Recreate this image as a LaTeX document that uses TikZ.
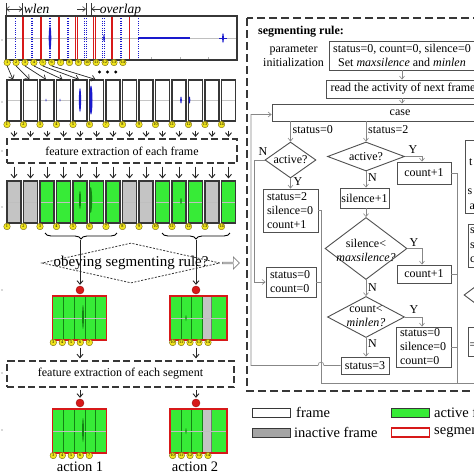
\documentclass[tikz,border=0pt]{standalone}
\usepackage{fontspec}
\setmainfont{Liberation Serif}
\usetikzlibrary{shapes.geometric,shapes.arrows,decorations.pathreplacing,arrows.meta,calc}
\definecolor{myyellow}{RGB}{240,228,30}
\definecolor{mygreen}{RGB}{55,235,55}
\definecolor{dkgreen}{RGB}{20,130,20}
\definecolor{mygray}{RGB}{196,196,196}
\definecolor{lggray}{RGB}{165,165,165}
\definecolor{fbord}{RGB}{55,55,55}
\definecolor{myred}{RGB}{215,25,25}
\definecolor{myblue}{RGB}{25,25,205}
\definecolor{conng}{RGB}{135,135,135}
\definecolor{boxc}{RGB}{80,80,80}
\definecolor{circb}{RGB}{110,95,10}
\tikzset{
  numc/.style={circle, draw=circb, line width=0.35pt, fill=myyellow, inner sep=0pt, minimum size=6.6pt, font=\fontsize{4.3}{4.3}\selectfont},
  fbox/.style={draw=fbord, line width=1.1pt, inner sep=0pt, minimum width=14pt},
  arr/.style={-{Straight Barb[length=3.5pt,width=6pt]}, line width=0.9pt, draw=black!85},
  dbox/.style={draw=fbord, line width=1.2pt, dash pattern=on 7pt off 3.5pt, inner sep=0pt},
  ft/.style={font=\fontsize{12}{14}\selectfont},
  fcbox/.style={draw=boxc, line width=0.9pt, inner sep=0pt, ft},
  conn/.style={draw=conng, line width=0.6pt},
  carr/.style={conn, -{Straight Barb[length=3pt,width=5pt]}},
  ddia/.style={diamond, draw=boxc, line width=0.9pt, inner sep=0pt},
  segbox/.style={draw=myred, line width=1.3pt, inner sep=0pt},
  rdot/.style={circle, fill=myred, draw=myred!70!black, line width=0.4pt, inner sep=0pt, minimum size=8pt},
  lgt/.style={font=\fontsize{14.5}{15}\selectfont, anchor=west, inner sep=0pt},
  bar/.style={draw=fbord, line width=0.6pt},
  barr/.style={bar, -{Straight Barb[length=3pt,width=5pt]}},
}
\newcommand\mysegA[2]{% #1 top y, #2 name
  \foreach \k in {0,...,4} \fill[mygreen] (52.5+\k*10.8,#1) rectangle (52.5+\k*10.8+10.8,#1+44);
  \foreach \k in {1,...,4} \draw[dkgreen, line width=0.6pt] (52.5+\k*10.8,#1) -- (52.5+\k*10.8,#1+44);
  \draw[black!25, line width=0.3pt] (52.5,#1+22) -- (106.5,#1+22);
  \fill[dkgreen] (83,#1+21) ellipse (0.9 and 12);
  \node[segbox, minimum width=54pt, minimum height=44pt] (#2) at (79.5,#1+22) {};
}
\newcommand\mysegB[2]{%
  \fill[mygreen] (170,#1) rectangle (202,#1+44);
  \fill[mygray] (202,#1) rectangle (211.5,#1+44);
  \fill[mygreen] (211.5,#1) rectangle (227,#1+44);
  \foreach \xx in {181,191.5,202} \draw[dkgreen, line width=0.6pt] (\xx,#1) -- (\xx,#1+44);
  \draw[black!55, line width=0.6pt] (211.5,#1) -- (211.5,#1+44);
  \draw[black!25, line width=0.3pt] (170,#1+22) -- (227,#1+22);
  \fill[dkgreen] (186,#1+22) ellipse (0.6 and 3);
  \node[segbox, minimum width=57pt, minimum height=44pt] (#2) at (198.5,#1+22) {};
}
\begin{document}
\begin{tikzpicture}[x=1pt,y=-1pt]
\useasboundingbox (0,0) rectangle (474,474);
\fill[white] (0,0) rectangle (474,474);
\begin{scope}
\clip (0,0) rectangle (474,474);

% ---------- left tick dots
\foreach \yy in {40,102,151,207,290,373,430} \fill[gray!60] (2,\yy) circle (0.8);

% ---------- top waveform
\draw[gray!50, line width=0.4pt] (6,38) -- (237,38);
\foreach \i in {1,3,...,13}{
  \pgfmathsetmacro\fl{6+(\i-1)*8.9}
  \draw[myred, line width=0.9pt] (\fl,16) rectangle (\fl+16.5,60);
}
\foreach \i in {2,4,...,14}{
  \pgfmathsetmacro\fl{6+(\i-1)*8.9}
  \draw[myblue, line width=0.8pt, dash pattern=on 1pt off 1.3pt] (\fl,16) rectangle (\fl+16.5,60);
}
\draw[myblue, line width=1.3pt] (138,38) -- (190,38);
\fill[myblue] (50,38) ellipse (1.3 and 12);
\fill[myblue] (104,38) ellipse (0.8 and 3.5);
\fill[myblue] (223,38) ellipse (0.9 and 5);
\draw[myblue, line width=0.8pt] (219,38) -- (227,38);
\foreach \xx in {151,180,208} \draw[gray!60, line width=0.4pt] (\xx,60) -- (\xx,57);
\node[draw=fbord, line width=1.1pt, minimum width=231pt, minimum height=44pt, inner sep=0pt] (wave) at (121.5,38) {};

% wlen / overlap
\coordinate (wa) at (6,9); \coordinate (wb) at (22.5,9);
\draw[bar] (6,3) -- (6,15) (22.5,3) -- (22.5,15);
\draw[bar, {Straight Barb[length=3pt,width=5pt]}-{Straight Barb[length=3pt,width=5pt]}] (wa) -- (wb);
\node[font=\fontsize{13.5}{14}\selectfont\itshape, inner sep=0pt] (wlen) at (36.7,9) {wlen};
\coordinate (oa) at (86,9); \coordinate (ob) at (91.5,9);
\coordinate (oa0) at (77,9); \coordinate (ob0) at (100,9);
\draw[bar] (86,3) -- (86,15) (91.5,3) -- (91.5,15);
\draw[barr] (oa0) -- (oa);
\draw[barr] (ob0) -- (ob);
\node[font=\fontsize{13.5}{14}\selectfont\itshape, inner sep=0pt] (ovl) at (120.5,10) {overlap};

% top circles
\foreach \i in {1,...,14}{
  \pgfmathsetmacro\cx{7.2+(\i-1)*8.9}
  \node[numc] (c1-\i) at (\cx,62.5) {\i};
}
\foreach \xx [count=\j] in {99.5,107.5,115.7} \fill[black] (\xx,72) circle (1.6);

% ---------- row 2
\foreach \i in {1,...,14}{
  \pgfmathsetmacro\L{7+(\i-1)*16.5}
  \node[fbox, fill=white, minimum height=41pt] (r2-\i) at (\L+7,100.5) {};
  \draw[gray!45, line width=0.4pt] (\L+0.6,100) -- (\L+13.4,100);
}
\fill[myblue] (80,100) ellipse (1.1 and 12);
\fill[myblue] (91,100) ellipse (1.5 and 14.5);
\fill[myblue] (181,100) ellipse (0.8 and 3.5);
\fill[myblue] (189.5,100) ellipse (0.8 and 3.5);
\fill[myblue] (46,100) ellipse (0.5 and 1.5);
\fill[myblue] (60,100) ellipse (0.5 and 1.5);
\foreach \i in {1,...,14}{
  \pgfmathsetmacro\L{7+(\i-1)*16.5}
  \node[numc] (c2-\i) at (\L,124.5) {\i};
}
\foreach \i in {1,...,6}
  \draw[arr, line width=0.7pt] (c1-\i.south) -- ([xshift=-1pt]r2-\i.north);

% feature extraction of each frame
\node[dbox, minimum width=230pt, minimum height=24pt, font=\fontsize{12}{14}\selectfont] (fe1) at (122,151) {feature extraction of each frame};
\foreach \i in {1,...,14}
  \draw[arr] ($(r2-\i.south)+(0,9)$) -- ($(r2-\i.south |- fe1.north)+(0,-1.5)$);

% ---------- row 3
\foreach \i/\c in {1/mygray,2/mygray,3/mygreen,4/mygreen,5/mygreen,6/mygreen,7/mygreen,8/mygray,9/mygray,10/mygreen,11/mygreen,12/mygreen,13/mygray,14/mygreen}{
  \pgfmathsetmacro\L{7+(\i-1)*16.5}
  \node[fbox, fill=\c, minimum height=42pt] (r3-\i) at (\L+7,202) {};
  \draw[black!25, line width=0.3pt] (\L+0.6,202) -- (\L+13.4,202);
}
\fill[dkgreen] (80,200) ellipse (1 and 9);
\fill[dkgreen] (90.7,200) ellipse (1.4 and 13);
\fill[dkgreen] (181,201) ellipse (0.7 and 3);
\foreach \i in {1,...,14}{
  \pgfmathsetmacro\L{7+(\i-1)*16.5}
  \node[numc] (c3-\i) at (\L,226.5) {\i};
}
\foreach \i in {1,...,14}
  \draw[arr] ($(r3-\i.north |- fe1.south)+(0,3)$) -- ($(r3-\i.north)+(0,-2)$);

% braces
\coordinate (ba1) at (45,233); \coordinate (bb1) at (117,233);
\coordinate (ba2) at (162,233); \coordinate (bb2) at (230,233);
\draw[decorate, decoration={brace, amplitude=6pt}, line width=0.9pt] (bb1) -- (ba1);
\draw[decorate, decoration={brace, amplitude=6pt}, line width=0.9pt] (bb2) -- (ba2);
\coordinate (bt1) at (80,240); \coordinate (bt2) at (196,240);

% obeying diamond
\node[diamond, draw=fbord, line width=0.8pt, dash pattern=on 2pt off 1.5pt, minimum width=178pt, minimum height=40pt, inner sep=0pt] (obey) at (131,263) {};
\node[single arrow, draw=gray, line width=0.7pt, fill=white, minimum width=12pt, minimum height=17pt, single arrow head extend=2.5pt, inner sep=0pt] (harr) at (230.5,263) {};
\node[rdot] (rd1) at (80,290) {};
\node[rdot] (rd2) at (196,290) {};
\draw[arr] (bt1) -- ([yshift=1pt]rd1.north);
\draw[arr] (bt2) -- ([yshift=1pt]rd2.north);
\node[font=\fontsize{15}{16}\selectfont, inner sep=0pt] (obeyt) at (131,263) {obeying segmenting rule?};

% segments
\mysegA{296}{seg1}
\mysegB{296}{seg2}
\foreach \n [count=\k from 0] in {3,...,7} \node[numc] (s1c-\n) at (53.3+\k*9,342.5) {\n};
\foreach \n/\xx in {10/172.7,11/181.3,12/190,13/199,14/208} \node[numc] (s2c-\n) at (\xx,342.5) {\n};

\node[dbox, minimum width=227pt, minimum height=26pt, font=\fontsize{12}{14}\selectfont] (fe2) at (120.5,374) {feature extraction of each segment};
\draw[arr] ($(seg1.south)+(0.5,7)$) -- ($(seg1.south |- fe2.north)+(0.5,-2)$);
\draw[arr] ($(seg2.south)+(-2.5,7)$) -- ($(seg2.south |- fe2.north)+(-2.5,-2)$);

\node[rdot] (rd3) at (80,403) {};
\node[rdot] (rd4) at (196,403) {};
\draw[arr] ($(rd3.north |- fe2.south)+(0,2)$) -- ([yshift=1pt]rd3.north);
\draw[arr] ($(rd4.north |- fe2.south)+(0,2)$) -- ([yshift=1pt]rd4.north);

\mysegA{409}{seg3}
\mysegB{409}{seg4}
\foreach \n [count=\k from 0] in {3,...,7} \node[numc] (s3c-\n) at (53.3+\k*9,455.5) {\n};
\foreach \n/\xx in {10/172.7,11/181.3,12/190,13/199,14/208} \node[numc] (s4c-\n) at (\xx,455.5) {\n};
\node[font=\fontsize{14.5}{15}\selectfont, inner sep=0pt, anchor=base] (act1) at (80,471) {action 1};
\node[font=\fontsize{14.5}{15}\selectfont, inner sep=0pt, anchor=base] (act2) at (195,471) {action 2};

% ---------- right panel
\draw[draw=fbord, line width=1.3pt, dash pattern=on 8pt off 4pt] (247,18) rectangle (495,391);
\node[font=\fontsize{12}{14}\selectfont\bfseries, anchor=west, inner sep=0pt] (title) at (258,32) {segmenting rule:};
\node[ft, align=center, inner sep=0pt] (pinit) at (293.5,56) {parameter\\initialization};
\node[fcbox, align=center, minimum width=146pt, minimum height=29pt] (initb) at (402,55.5) {status=0, count=0, silence=0\\Set \textit{maxsilence} and \textit{minlen}};
\node[fcbox, minimum width=154pt, minimum height=18pt] (readb) at (403,89) {read the activity of next frame};
\node[fcbox, minimum width=256pt, minimum height=17pt] (caseb) at (400,112.5) {case};
\draw[carr] (initb.south) -- (initb.south |- readb.north);
\draw[carr] (readb.south -| initb.south) -- (initb.south |- caseb.north);

% column 1
\node[ddia, minimum width=51pt, minimum height=36pt] (d1) at (290.5,160) {};
\node[ft, inner sep=0pt] (d1t) at (d1) {active?};
\node[ft, anchor=west, inner sep=0pt] (l0) at (292.5,130) {status=0};
\draw[carr] (d1.north |- caseb.south) -- (d1.north);
\node[ft, inner sep=0pt] (n1) at (263,152) {N};
\node[ft, inner sep=0pt] (y1) at (298,182) {Y};
\node[fcbox, align=left, text width=47pt, inner xsep=4pt, minimum height=43pt] (b1) at (290.5,210.5) {status=2\\silence=0\\count+1};
\node[fcbox, align=left, text width=42pt, inner xsep=4pt, minimum height=30pt] (b2) at (291,282) {status=0\\count=0};
\draw[carr] (d1.south) -- (d1.south |- b1.north);
\draw[carr] (d1.west) -- ++(-10.5,0) |- (b2.west);

% column 2
\node[ft, anchor=west, inner sep=0pt] (l2) at (368,130) {status=2};
\node[ddia, minimum width=77pt, minimum height=29pt] (d2) at (366,156.5) {};
\node[ft, inner sep=0pt] (d2t) at (d2) {active?};
\draw[carr] (d2.north |- caseb.south) -- (d2.north);
\node[ft, inner sep=0pt] (y2) at (413,150) {Y};
\node[ft, inner sep=0pt] (n2) at (372.5,178) {N};
\node[fcbox, minimum width=54pt, minimum height=22pt] (c1) at (424,173) {count+1};
\node[fcbox, minimum width=49pt, minimum height=20pt] (s1) at (364.5,198) {silence+1};
\draw[carr] (d2.east) -| ([xshift=-2pt]c1.north);
\draw[carr] (d2.south) -- (d2.south |- s1.north);

\node[ddia, minimum width=82pt, minimum height=62pt] (d3) at (366,248.5) {};
\node[ft, align=center, inner sep=0pt] (d3t) at (366,250) {silence<\\\textit{maxsilence?}};
\draw[carr] (s1.south -| d3.north) -- (d3.north);
\node[ft, inner sep=0pt] (y3) at (414,243) {Y};
\node[fcbox, minimum width=54pt, minimum height=18pt] (c2) at (424,274) {count+1};
\draw[carr] (d3.east) -| ([xshift=-2pt]c2.north);
\node[ft, inner sep=0pt] (n3) at (372.5,288) {N};

\node[ddia, minimum width=77pt, minimum height=41pt] (d4) at (366,317) {};
\node[ft, align=center, inner sep=0pt] (d4t) at (366,316.5) {count<\\\textit{minlen?}};
\draw[carr] (d3.south) -- (d4.north);
\node[ft, inner sep=0pt] (y4) at (414,310) {Y};
\node[fcbox, align=left, text width=47pt, inner xsep=4pt, minimum height=40pt] (b3) at (423.5,347) {status=0\\silence=0\\count=0};
\draw[carr] (d4.east) -| ([xshift=-1.5pt]b3.north);
\node[ft, inner sep=0pt] (n4) at (372.5,344) {N};
\node[fcbox, minimum width=48pt, minimum height=17pt] (s3) at (365,365.5) {status=3};
\draw[carr] (d4.south) -- (d4.south |- s3.north);

% merge lines
\coordinate (bl) at (321,383);
\coordinate (br) at (495,383);
\coordinate (vr) at (457,383);
\coordinate (lx) at (251,365.5);
\draw[conn] (b1.east) -| (bl) -- (br);
\draw[conn] (b2.east) -- (b2.east -| bl);
\draw[conn] (c1.east) -| (vr);
\draw[conn] (c2.east) -- (c2.east -| vr);
\draw[conn] (b3.east) -- (b3.east -| vr);
\draw[carr] (s3.west) -- ($(s3.west -| bl)+(3,0)$) .. controls +(0,-4.5) and +(0,-4.5) .. ($(s3.west -| bl)+(-3,0)$) -- (lx) |- ([yshift=-2pt]caseb.west);

% right column (cropped)
\node[fcbox, minimum width=60pt, minimum height=73pt] (rb1) at (495,176.5) {};
\node[ft, anchor=west, inner sep=0pt] (rb1a) at (469,162) {t};
\node[ft, anchor=west, inner sep=0pt] (rb1b) at (467.5,192) {s};
\node[ft, anchor=west, inner sep=0pt] (rb1c) at (469.5,207) {a};
\node[fcbox, minimum width=60pt, minimum height=43pt] (rb2) at (498,245.5) {};
\node[ft, anchor=west, inner sep=0pt] (rb2a) at (470,231) {s};
\node[ft, anchor=west, inner sep=0pt] (rb2b) at (470,246) {s};
\node[ft, anchor=west, inner sep=0pt] (rb2c) at (470,260) {c};
\node[ddia, minimum width=80pt, minimum height=60pt] (rd) at (504,295) {};
\node[fcbox, minimum width=60pt, minimum height=29pt] (rb4) at (498,341.5) {};
\node[ft, anchor=west, inner sep=0pt] (rb4a) at (469.5,346) {=};

% legend
\node[draw=fbord, line width=1pt, fill=white, minimum width=38pt, minimum height=9pt, inner sep=0pt] (lg1) at (271,412.5) {};
\node[lgt] (lt1) at (296,412) {frame};
\node[draw=fbord, line width=1pt, fill=lggray, minimum width=38pt, minimum height=9pt, inner sep=0pt] (lg2) at (271,432.5) {};
\node[lgt] (lt2) at (294,432) {inactive frame};
\node[draw=fbord, line width=1pt, fill=mygreen, minimum width=38pt, minimum height=9pt, inner sep=0pt] (lg3) at (410.5,412.5) {};
\node[lgt] (lt3) at (434,412) {active frame};
\node[draw=myred, line width=1.5pt, fill=white, minimum width=38pt, minimum height=9pt, inner sep=0pt] (lg4) at (410.5,432.5) {};
\node[lgt] (lt4) at (434,432) {segment};
\end{scope}
\end{tikzpicture}
\end{document}
